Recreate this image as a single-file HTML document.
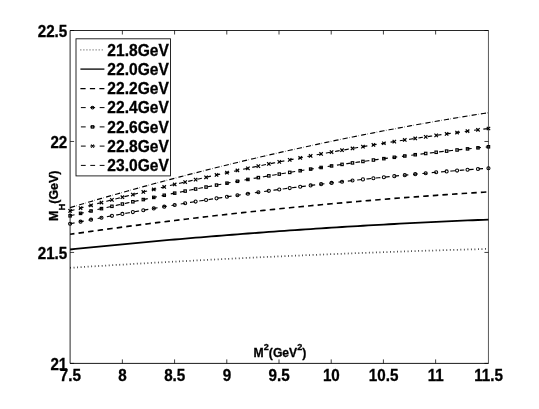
<!DOCTYPE html>
<html><head><meta charset="utf-8"><title>plot</title>
<style>html,body{margin:0;padding:0;background:#fff}svg{display:block}</style></head>
<body>
<svg width="539" height="409" viewBox="0 0 539 409">
<rect x="0" y="0" width="539" height="409" fill="#fff"/>
<g fill="none">
<path d="M70.10 267.80L75.33 267.47L80.56 267.14L85.79 266.81L91.02 266.48L96.25 266.16L101.48 265.84L106.71 265.52L111.94 265.21L117.16 264.89L122.39 264.58L127.62 264.28L132.85 263.97L138.08 263.67L143.31 263.37L148.54 263.07L153.77 262.77L159.00 262.48L164.23 262.19L169.46 261.90L174.69 261.61L179.92 261.33L185.15 261.05L190.38 260.77L195.60 260.49L200.83 260.22L206.06 259.95L211.29 259.68L216.52 259.41L221.75 259.15L226.98 258.88L232.21 258.62L237.44 258.37L242.67 258.11L247.90 257.86L253.13 257.61L258.36 257.36L263.59 257.12L268.82 256.88L274.05 256.64L279.27 256.40L284.50 256.16L289.73 255.93L294.96 255.70L300.19 255.47L305.42 255.25L310.65 255.03L315.88 254.81L321.11 254.59L326.34 254.37L331.57 254.16L336.80 253.95L342.03 253.74L347.26 253.53L352.49 253.33L357.72 253.13L362.94 252.93L368.17 252.74L373.40 252.54L378.63 252.35L383.86 252.16L389.09 251.98L394.32 251.79L399.55 251.61L404.78 251.43L410.01 251.26L415.24 251.08L420.47 250.91L425.70 250.74L430.93 250.57L436.16 250.41L441.39 250.25L446.62 250.09L451.84 249.93L457.07 249.78L462.30 249.62L467.53 249.47L472.76 249.33L477.99 249.18L483.22 249.04L488.45 248.90" stroke="#3a3a3a" stroke-width="1.75" stroke-dasharray="0.9 2.62" stroke-dashoffset="0"/>
<path d="M70.10 249.50L75.33 248.96L80.56 248.43L85.79 247.90L91.02 247.37L96.25 246.85L101.48 246.33L106.71 245.81L111.94 245.30L117.16 244.80L122.39 244.30L127.62 243.80L132.85 243.31L138.08 242.82L143.31 242.33L148.54 241.85L153.77 241.38L159.00 240.90L164.23 240.44L169.46 239.97L174.69 239.51L179.92 239.06L185.15 238.61L190.38 238.16L195.60 237.72L200.83 237.28L206.06 236.84L211.29 236.41L216.52 235.99L221.75 235.56L226.98 235.15L232.21 234.73L237.44 234.32L242.67 233.92L247.90 233.52L253.13 233.12L258.36 232.73L263.59 232.34L268.82 231.96L274.05 231.58L279.27 231.20L284.50 230.83L289.73 230.46L294.96 230.10L300.19 229.74L305.42 229.38L310.65 229.03L315.88 228.69L321.11 228.34L326.34 228.01L331.57 227.67L336.80 227.34L342.03 227.02L347.26 226.70L352.49 226.38L357.72 226.06L362.94 225.76L368.17 225.45L373.40 225.15L378.63 224.85L383.86 224.56L389.09 224.27L394.32 223.99L399.55 223.71L404.78 223.44L410.01 223.16L415.24 222.90L420.47 222.64L425.70 222.38L430.93 222.12L436.16 221.87L441.39 221.63L446.62 221.38L451.84 221.15L457.07 220.91L462.30 220.68L467.53 220.46L472.76 220.24L477.99 220.02L483.22 219.81L488.45 219.60" stroke="#000" stroke-width="1.8"/>
<path d="M70.10 234.30L75.33 233.56L80.56 232.82L85.79 232.09L91.02 231.36L96.25 230.64L101.48 229.93L106.71 229.22L111.94 228.51L117.16 227.81L122.39 227.12L127.62 226.43L132.85 225.75L138.08 225.07L143.31 224.40L148.54 223.73L153.77 223.07L159.00 222.41L164.23 221.76L169.46 221.12L174.69 220.48L179.92 219.84L185.15 219.21L190.38 218.59L195.60 217.97L200.83 217.35L206.06 216.75L211.29 216.14L216.52 215.55L221.75 214.96L226.98 214.37L232.21 213.79L237.44 213.21L242.67 212.64L247.90 212.08L253.13 211.52L258.36 210.96L263.59 210.41L268.82 209.87L274.05 209.33L279.27 208.80L284.50 208.27L289.73 207.75L294.96 207.23L300.19 206.72L305.42 206.22L310.65 205.72L315.88 205.22L321.11 204.73L326.34 204.25L331.57 203.77L336.80 203.30L342.03 202.83L347.26 202.36L352.49 201.91L357.72 201.45L362.94 201.01L368.17 200.57L373.40 200.13L378.63 199.70L383.86 199.28L389.09 198.86L394.32 198.44L399.55 198.03L404.78 197.63L410.01 197.23L415.24 196.84L420.47 196.45L425.70 196.07L430.93 195.69L436.16 195.32L441.39 194.95L446.62 194.59L451.84 194.24L457.07 193.89L462.30 193.54L467.53 193.20L472.76 192.87L477.99 192.54L483.22 192.22L488.45 191.90" stroke="#000" stroke-width="1.65" stroke-dasharray="5.5 4.13" stroke-dashoffset="1.1"/>
<path d="M70.10 223.70L75.33 222.69L80.56 221.68L85.79 220.68L91.02 219.69L96.25 218.71L101.48 217.73L106.71 216.77L111.94 215.81L117.16 214.86L122.39 213.92L127.62 212.99L132.85 212.06L138.08 211.14L143.31 210.23L148.54 209.33L153.77 208.44L159.00 207.56L164.23 206.68L169.46 205.81L174.69 204.95L179.92 204.10L185.15 203.25L190.38 202.42L195.60 201.59L200.83 200.77L206.06 199.96L211.29 199.16L216.52 198.36L221.75 197.57L226.98 196.79L232.21 196.02L237.44 195.26L242.67 194.51L247.90 193.76L253.13 193.02L258.36 192.29L263.59 191.57L268.82 190.85L274.05 190.15L279.27 189.45L284.50 188.76L289.73 188.08L294.96 187.41L300.19 186.74L305.42 186.08L310.65 185.43L315.88 184.79L321.11 184.16L326.34 183.54L331.57 182.92L336.80 182.31L342.03 181.71L347.26 181.12L352.49 180.53L357.72 179.96L362.94 179.39L368.17 178.83L373.40 178.28L378.63 177.74L383.86 177.20L389.09 176.67L394.32 176.15L399.55 175.64L404.78 175.14L410.01 174.65L415.24 174.16L420.47 173.68L425.70 173.21L430.93 172.75L436.16 172.29L441.39 171.85L446.62 171.41L451.84 170.98L457.07 170.56L462.30 170.15L467.53 169.74L472.76 169.34L477.99 168.95L483.22 168.57L488.45 168.20" stroke="#000" stroke-width="1.15" stroke-dasharray="4.6 4.77" stroke-dashoffset="0.05"/>
<circle cx="70.10" cy="223.70" r="1.55" fill="none" stroke="#000" stroke-width="1.05"/>
<circle cx="80.56" cy="221.68" r="1.55" fill="none" stroke="#000" stroke-width="1.05"/>
<circle cx="91.02" cy="219.69" r="1.55" fill="none" stroke="#000" stroke-width="1.05"/>
<circle cx="101.48" cy="217.73" r="1.55" fill="none" stroke="#000" stroke-width="1.05"/>
<circle cx="111.94" cy="215.81" r="1.55" fill="none" stroke="#000" stroke-width="1.05"/>
<circle cx="122.39" cy="213.92" r="1.55" fill="none" stroke="#000" stroke-width="1.05"/>
<circle cx="132.85" cy="212.06" r="1.55" fill="none" stroke="#000" stroke-width="1.05"/>
<circle cx="143.31" cy="210.23" r="1.55" fill="none" stroke="#000" stroke-width="1.05"/>
<circle cx="153.77" cy="208.44" r="1.55" fill="none" stroke="#000" stroke-width="1.05"/>
<circle cx="164.23" cy="206.68" r="1.55" fill="none" stroke="#000" stroke-width="1.05"/>
<circle cx="174.69" cy="204.95" r="1.55" fill="none" stroke="#000" stroke-width="1.05"/>
<circle cx="185.15" cy="203.25" r="1.55" fill="none" stroke="#000" stroke-width="1.05"/>
<circle cx="195.60" cy="201.59" r="1.55" fill="none" stroke="#000" stroke-width="1.05"/>
<circle cx="206.06" cy="199.96" r="1.55" fill="none" stroke="#000" stroke-width="1.05"/>
<circle cx="216.52" cy="198.36" r="1.55" fill="none" stroke="#000" stroke-width="1.05"/>
<circle cx="226.98" cy="196.79" r="1.55" fill="none" stroke="#000" stroke-width="1.05"/>
<circle cx="237.44" cy="195.26" r="1.55" fill="none" stroke="#000" stroke-width="1.05"/>
<circle cx="247.90" cy="193.76" r="1.55" fill="none" stroke="#000" stroke-width="1.05"/>
<circle cx="258.36" cy="192.29" r="1.55" fill="none" stroke="#000" stroke-width="1.05"/>
<circle cx="268.82" cy="190.85" r="1.55" fill="none" stroke="#000" stroke-width="1.05"/>
<circle cx="279.27" cy="189.45" r="1.55" fill="none" stroke="#000" stroke-width="1.05"/>
<circle cx="289.73" cy="188.08" r="1.55" fill="none" stroke="#000" stroke-width="1.05"/>
<circle cx="300.19" cy="186.74" r="1.55" fill="none" stroke="#000" stroke-width="1.05"/>
<circle cx="310.65" cy="185.43" r="1.55" fill="none" stroke="#000" stroke-width="1.05"/>
<circle cx="321.11" cy="184.16" r="1.55" fill="none" stroke="#000" stroke-width="1.05"/>
<circle cx="331.57" cy="182.92" r="1.55" fill="none" stroke="#000" stroke-width="1.05"/>
<circle cx="342.03" cy="181.71" r="1.55" fill="none" stroke="#000" stroke-width="1.05"/>
<circle cx="352.49" cy="180.53" r="1.55" fill="none" stroke="#000" stroke-width="1.05"/>
<circle cx="362.94" cy="179.39" r="1.55" fill="none" stroke="#000" stroke-width="1.05"/>
<circle cx="373.40" cy="178.28" r="1.55" fill="none" stroke="#000" stroke-width="1.05"/>
<circle cx="383.86" cy="177.20" r="1.55" fill="none" stroke="#000" stroke-width="1.05"/>
<circle cx="394.32" cy="176.15" r="1.55" fill="none" stroke="#000" stroke-width="1.05"/>
<circle cx="404.78" cy="175.14" r="1.55" fill="none" stroke="#000" stroke-width="1.05"/>
<circle cx="415.24" cy="174.16" r="1.55" fill="none" stroke="#000" stroke-width="1.05"/>
<circle cx="425.70" cy="173.21" r="1.55" fill="none" stroke="#000" stroke-width="1.05"/>
<circle cx="436.16" cy="172.29" r="1.55" fill="none" stroke="#000" stroke-width="1.05"/>
<circle cx="446.62" cy="171.41" r="1.55" fill="none" stroke="#000" stroke-width="1.05"/>
<circle cx="457.07" cy="170.56" r="1.55" fill="none" stroke="#000" stroke-width="1.05"/>
<circle cx="467.53" cy="169.74" r="1.55" fill="none" stroke="#000" stroke-width="1.05"/>
<circle cx="477.99" cy="168.95" r="1.55" fill="none" stroke="#000" stroke-width="1.05"/>
<circle cx="488.45" cy="168.20" r="1.55" fill="none" stroke="#000" stroke-width="1.05"/>
<path d="M70.10 215.80L75.33 214.58L80.56 213.37L85.79 212.17L91.02 210.98L96.25 209.80L101.48 208.63L106.71 207.46L111.94 206.31L117.16 205.16L122.39 204.03L127.62 202.90L132.85 201.78L138.08 200.67L143.31 199.57L148.54 198.48L153.77 197.39L159.00 196.32L164.23 195.25L169.46 194.20L174.69 193.15L179.92 192.11L185.15 191.08L190.38 190.06L195.60 189.05L200.83 188.05L206.06 187.06L211.29 186.07L216.52 185.10L221.75 184.13L226.98 183.18L232.21 182.23L237.44 181.29L242.67 180.36L247.90 179.44L253.13 178.53L258.36 177.62L263.59 176.73L268.82 175.84L274.05 174.97L279.27 174.10L284.50 173.24L289.73 172.39L294.96 171.55L300.19 170.72L305.42 169.90L310.65 169.09L315.88 168.28L321.11 167.49L326.34 166.70L331.57 165.93L336.80 165.16L342.03 164.40L347.26 163.65L352.49 162.91L357.72 162.18L362.94 161.45L368.17 160.74L373.40 160.03L378.63 159.34L383.86 158.65L389.09 157.97L394.32 157.30L399.55 156.64L404.78 155.99L410.01 155.35L415.24 154.72L420.47 154.09L425.70 153.48L430.93 152.87L436.16 152.28L441.39 151.69L446.62 151.11L451.84 150.54L457.07 149.98L462.30 149.43L467.53 148.88L472.76 148.35L477.99 147.82L483.22 147.31L488.45 146.80" stroke="#000" stroke-width="1.15" stroke-dasharray="4.6 4.77" stroke-dashoffset="0.05"/>
<rect x="68.90" y="214.60" width="2.4" height="2.4" fill="none" stroke="#000" stroke-width="1.15"/>
<rect x="79.36" y="212.17" width="2.4" height="2.4" fill="none" stroke="#000" stroke-width="1.15"/>
<rect x="89.82" y="209.78" width="2.4" height="2.4" fill="none" stroke="#000" stroke-width="1.15"/>
<rect x="100.28" y="207.43" width="2.4" height="2.4" fill="none" stroke="#000" stroke-width="1.15"/>
<rect x="110.73" y="205.11" width="2.4" height="2.4" fill="none" stroke="#000" stroke-width="1.15"/>
<rect x="121.19" y="202.83" width="2.4" height="2.4" fill="none" stroke="#000" stroke-width="1.15"/>
<rect x="131.65" y="200.58" width="2.4" height="2.4" fill="none" stroke="#000" stroke-width="1.15"/>
<rect x="142.11" y="198.37" width="2.4" height="2.4" fill="none" stroke="#000" stroke-width="1.15"/>
<rect x="152.57" y="196.19" width="2.4" height="2.4" fill="none" stroke="#000" stroke-width="1.15"/>
<rect x="163.03" y="194.05" width="2.4" height="2.4" fill="none" stroke="#000" stroke-width="1.15"/>
<rect x="173.49" y="191.95" width="2.4" height="2.4" fill="none" stroke="#000" stroke-width="1.15"/>
<rect x="183.95" y="189.88" width="2.4" height="2.4" fill="none" stroke="#000" stroke-width="1.15"/>
<rect x="194.41" y="187.85" width="2.4" height="2.4" fill="none" stroke="#000" stroke-width="1.15"/>
<rect x="204.86" y="185.86" width="2.4" height="2.4" fill="none" stroke="#000" stroke-width="1.15"/>
<rect x="215.32" y="183.90" width="2.4" height="2.4" fill="none" stroke="#000" stroke-width="1.15"/>
<rect x="225.78" y="181.98" width="2.4" height="2.4" fill="none" stroke="#000" stroke-width="1.15"/>
<rect x="236.24" y="180.09" width="2.4" height="2.4" fill="none" stroke="#000" stroke-width="1.15"/>
<rect x="246.70" y="178.24" width="2.4" height="2.4" fill="none" stroke="#000" stroke-width="1.15"/>
<rect x="257.16" y="176.42" width="2.4" height="2.4" fill="none" stroke="#000" stroke-width="1.15"/>
<rect x="267.62" y="174.64" width="2.4" height="2.4" fill="none" stroke="#000" stroke-width="1.15"/>
<rect x="278.07" y="172.90" width="2.4" height="2.4" fill="none" stroke="#000" stroke-width="1.15"/>
<rect x="288.53" y="171.19" width="2.4" height="2.4" fill="none" stroke="#000" stroke-width="1.15"/>
<rect x="298.99" y="169.52" width="2.4" height="2.4" fill="none" stroke="#000" stroke-width="1.15"/>
<rect x="309.45" y="167.89" width="2.4" height="2.4" fill="none" stroke="#000" stroke-width="1.15"/>
<rect x="319.91" y="166.29" width="2.4" height="2.4" fill="none" stroke="#000" stroke-width="1.15"/>
<rect x="330.37" y="164.73" width="2.4" height="2.4" fill="none" stroke="#000" stroke-width="1.15"/>
<rect x="340.83" y="163.20" width="2.4" height="2.4" fill="none" stroke="#000" stroke-width="1.15"/>
<rect x="351.29" y="161.71" width="2.4" height="2.4" fill="none" stroke="#000" stroke-width="1.15"/>
<rect x="361.74" y="160.25" width="2.4" height="2.4" fill="none" stroke="#000" stroke-width="1.15"/>
<rect x="372.20" y="158.83" width="2.4" height="2.4" fill="none" stroke="#000" stroke-width="1.15"/>
<rect x="382.66" y="157.45" width="2.4" height="2.4" fill="none" stroke="#000" stroke-width="1.15"/>
<rect x="393.12" y="156.10" width="2.4" height="2.4" fill="none" stroke="#000" stroke-width="1.15"/>
<rect x="403.58" y="154.79" width="2.4" height="2.4" fill="none" stroke="#000" stroke-width="1.15"/>
<rect x="414.04" y="153.52" width="2.4" height="2.4" fill="none" stroke="#000" stroke-width="1.15"/>
<rect x="424.50" y="152.28" width="2.4" height="2.4" fill="none" stroke="#000" stroke-width="1.15"/>
<rect x="434.96" y="151.08" width="2.4" height="2.4" fill="none" stroke="#000" stroke-width="1.15"/>
<rect x="445.42" y="149.91" width="2.4" height="2.4" fill="none" stroke="#000" stroke-width="1.15"/>
<rect x="455.87" y="148.78" width="2.4" height="2.4" fill="none" stroke="#000" stroke-width="1.15"/>
<rect x="466.33" y="147.68" width="2.4" height="2.4" fill="none" stroke="#000" stroke-width="1.15"/>
<rect x="476.79" y="146.62" width="2.4" height="2.4" fill="none" stroke="#000" stroke-width="1.15"/>
<rect x="487.25" y="145.60" width="2.4" height="2.4" fill="none" stroke="#000" stroke-width="1.15"/>
<path d="M70.10 210.90L75.33 209.48L80.56 208.08L85.79 206.68L91.02 205.30L96.25 203.92L101.48 202.56L106.71 201.20L111.94 199.85L117.16 198.51L122.39 197.19L127.62 195.87L132.85 194.56L138.08 193.26L143.31 191.98L148.54 190.70L153.77 189.43L159.00 188.17L164.23 186.92L169.46 185.68L174.69 184.45L179.92 183.23L185.15 182.02L190.38 180.82L195.60 179.63L200.83 178.45L206.06 177.28L211.29 176.11L216.52 174.96L221.75 173.82L226.98 172.69L232.21 171.56L237.44 170.45L242.67 169.35L247.90 168.26L253.13 167.17L258.36 166.10L263.59 165.03L268.82 163.98L274.05 162.93L279.27 161.90L284.50 160.87L289.73 159.86L294.96 158.85L300.19 157.86L305.42 156.87L310.65 155.90L315.88 154.93L321.11 153.97L326.34 153.02L331.57 152.09L336.80 151.16L342.03 150.24L347.26 149.33L352.49 148.44L357.72 147.55L362.94 146.67L368.17 145.80L373.40 144.94L378.63 144.09L383.86 143.25L389.09 142.42L394.32 141.60L399.55 140.79L404.78 139.99L410.01 139.20L415.24 138.42L420.47 137.64L425.70 136.88L430.93 136.13L436.16 135.39L441.39 134.65L446.62 133.93L451.84 133.22L457.07 132.52L462.30 131.82L467.53 131.14L472.76 130.46L477.99 129.80L483.22 129.14L488.45 128.50" stroke="#000" stroke-width="1.15" stroke-dasharray="4.6 4.77" stroke-dashoffset="0.05"/>
<path d="M68.40 209.20L71.80 212.60M68.40 212.60L71.80 209.20" stroke="#000" stroke-width="1.2" fill="none"/>
<path d="M78.86 206.38L82.26 209.78M78.86 209.78L82.26 206.38" stroke="#000" stroke-width="1.2" fill="none"/>
<path d="M89.32 203.60L92.72 207.00M89.32 207.00L92.72 203.60" stroke="#000" stroke-width="1.2" fill="none"/>
<path d="M99.78 200.86L103.18 204.26M99.78 204.26L103.18 200.86" stroke="#000" stroke-width="1.2" fill="none"/>
<path d="M110.23 198.15L113.64 201.55M110.23 201.55L113.64 198.15" stroke="#000" stroke-width="1.2" fill="none"/>
<path d="M120.69 195.49L124.09 198.89M120.69 198.89L124.09 195.49" stroke="#000" stroke-width="1.2" fill="none"/>
<path d="M131.15 192.86L134.55 196.26M131.15 196.26L134.55 192.86" stroke="#000" stroke-width="1.2" fill="none"/>
<path d="M141.61 190.28L145.01 193.68M141.61 193.68L145.01 190.28" stroke="#000" stroke-width="1.2" fill="none"/>
<path d="M152.07 187.73L155.47 191.13M152.07 191.13L155.47 187.73" stroke="#000" stroke-width="1.2" fill="none"/>
<path d="M162.53 185.22L165.93 188.62M162.53 188.62L165.93 185.22" stroke="#000" stroke-width="1.2" fill="none"/>
<path d="M172.99 182.75L176.39 186.15M172.99 186.15L176.39 182.75" stroke="#000" stroke-width="1.2" fill="none"/>
<path d="M183.45 180.32L186.85 183.72M183.45 183.72L186.85 180.32" stroke="#000" stroke-width="1.2" fill="none"/>
<path d="M193.91 177.93L197.30 181.33M193.91 181.33L197.30 177.93" stroke="#000" stroke-width="1.2" fill="none"/>
<path d="M204.36 175.58L207.76 178.98M204.36 178.98L207.76 175.58" stroke="#000" stroke-width="1.2" fill="none"/>
<path d="M214.82 173.26L218.22 176.66M214.82 176.66L218.22 173.26" stroke="#000" stroke-width="1.2" fill="none"/>
<path d="M225.28 170.99L228.68 174.39M225.28 174.39L228.68 170.99" stroke="#000" stroke-width="1.2" fill="none"/>
<path d="M235.74 168.75L239.14 172.15M235.74 172.15L239.14 168.75" stroke="#000" stroke-width="1.2" fill="none"/>
<path d="M246.20 166.56L249.60 169.96M246.20 169.96L249.60 166.56" stroke="#000" stroke-width="1.2" fill="none"/>
<path d="M256.66 164.40L260.06 167.80M256.66 167.80L260.06 164.40" stroke="#000" stroke-width="1.2" fill="none"/>
<path d="M267.12 162.28L270.52 165.68M267.12 165.68L270.52 162.28" stroke="#000" stroke-width="1.2" fill="none"/>
<path d="M277.57 160.20L280.97 163.60M277.57 163.60L280.97 160.20" stroke="#000" stroke-width="1.2" fill="none"/>
<path d="M288.03 158.16L291.43 161.56M288.03 161.56L291.43 158.16" stroke="#000" stroke-width="1.2" fill="none"/>
<path d="M298.49 156.16L301.89 159.56M298.49 159.56L301.89 156.16" stroke="#000" stroke-width="1.2" fill="none"/>
<path d="M308.95 154.20L312.35 157.60M308.95 157.60L312.35 154.20" stroke="#000" stroke-width="1.2" fill="none"/>
<path d="M319.41 152.27L322.81 155.67M319.41 155.67L322.81 152.27" stroke="#000" stroke-width="1.2" fill="none"/>
<path d="M329.87 150.39L333.27 153.79M329.87 153.79L333.27 150.39" stroke="#000" stroke-width="1.2" fill="none"/>
<path d="M340.33 148.54L343.73 151.94M340.33 151.94L343.73 148.54" stroke="#000" stroke-width="1.2" fill="none"/>
<path d="M350.79 146.74L354.19 150.14M350.79 150.14L354.19 146.74" stroke="#000" stroke-width="1.2" fill="none"/>
<path d="M361.24 144.97L364.64 148.37M361.24 148.37L364.64 144.97" stroke="#000" stroke-width="1.2" fill="none"/>
<path d="M371.70 143.24L375.10 146.64M371.70 146.64L375.10 143.24" stroke="#000" stroke-width="1.2" fill="none"/>
<path d="M382.16 141.55L385.56 144.95M382.16 144.95L385.56 141.55" stroke="#000" stroke-width="1.2" fill="none"/>
<path d="M392.62 139.90L396.02 143.30M392.62 143.30L396.02 139.90" stroke="#000" stroke-width="1.2" fill="none"/>
<path d="M403.08 138.29L406.48 141.69M403.08 141.69L406.48 138.29" stroke="#000" stroke-width="1.2" fill="none"/>
<path d="M413.54 136.72L416.94 140.12M413.54 140.12L416.94 136.72" stroke="#000" stroke-width="1.2" fill="none"/>
<path d="M424.00 135.18L427.40 138.58M424.00 138.58L427.40 135.18" stroke="#000" stroke-width="1.2" fill="none"/>
<path d="M434.46 133.69L437.86 137.09M434.46 137.09L437.86 133.69" stroke="#000" stroke-width="1.2" fill="none"/>
<path d="M444.92 132.23L448.31 135.63M444.92 135.63L448.31 132.23" stroke="#000" stroke-width="1.2" fill="none"/>
<path d="M455.37 130.82L458.77 134.22M455.37 134.22L458.77 130.82" stroke="#000" stroke-width="1.2" fill="none"/>
<path d="M465.83 129.44L469.23 132.84M465.83 132.84L469.23 129.44" stroke="#000" stroke-width="1.2" fill="none"/>
<path d="M476.29 128.10L479.69 131.50M476.29 131.50L479.69 128.10" stroke="#000" stroke-width="1.2" fill="none"/>
<path d="M486.75 126.80L490.15 130.20M486.75 130.20L490.15 126.80" stroke="#000" stroke-width="1.2" fill="none"/>
<path d="M70.10 207.60L75.33 206.04L80.56 204.50L85.79 202.96L91.02 201.43L96.25 199.91L101.48 198.40L106.71 196.90L111.94 195.41L117.16 193.93L122.39 192.46L127.62 190.99L132.85 189.54L138.08 188.10L143.31 186.66L148.54 185.24L153.77 183.82L159.00 182.41L164.23 181.02L169.46 179.63L174.69 178.25L179.92 176.88L185.15 175.52L190.38 174.17L195.60 172.83L200.83 171.50L206.06 170.18L211.29 168.86L216.52 167.56L221.75 166.27L226.98 164.98L232.21 163.71L237.44 162.44L242.67 161.18L247.90 159.94L253.13 158.70L258.36 157.47L263.59 156.25L268.82 155.04L274.05 153.84L279.27 152.65L284.50 151.47L289.73 150.30L294.96 149.13L300.19 147.98L305.42 146.84L310.65 145.70L315.88 144.58L321.11 143.46L326.34 142.35L331.57 141.26L336.80 140.17L342.03 139.09L347.26 138.02L352.49 136.96L357.72 135.91L362.94 134.87L368.17 133.84L373.40 132.82L378.63 131.80L383.86 130.80L389.09 129.81L394.32 128.82L399.55 127.85L404.78 126.88L410.01 125.92L415.24 124.98L420.47 124.04L425.70 123.11L430.93 122.19L436.16 121.28L441.39 120.38L446.62 119.49L451.84 118.61L457.07 117.74L462.30 116.87L467.53 116.02L472.76 115.18L477.99 114.34L483.22 113.52L488.45 112.70" stroke="#000" stroke-width="1.15" stroke-dasharray="5.2 1.5 0.4 2.27" stroke-dashoffset="0"/>
</g>
<g stroke="#000" fill="none"><path d="M70.1 30.5H488.45" stroke-width="0.85"/><path d="M70.1 363.4H488.45" stroke-width="0.9"/><path d="M70.1 30.5V363.4" stroke-width="0.85"/><path d="M488.45 30.5V363.4" stroke-width="0.65"/></g>
<path d="M122.37 363.4V359.4M122.37 30.5V34.5M174.58 363.4V359.4M174.58 30.5V34.5M226.79 363.4V359.4M226.79 30.5V34.5M279.00 363.4V359.4M279.00 30.5V34.5M331.21 363.4V359.4M331.21 30.5V34.5M383.42 363.4V359.4M383.42 30.5V34.5M435.63 363.4V359.4M435.63 30.5V34.5M70.1 363.40H74.1M488.45 363.40H484.45M70.1 252.43H74.1M488.45 252.43H484.45M70.1 141.47H74.1M488.45 141.47H484.45M70.1 30.50H74.1M488.45 30.50H484.45" stroke="#000" stroke-width="0.75" fill="none"/>
<g font-family="Liberation Sans, Arial, Helvetica, sans-serif" font-weight="bold" fill="#000" stroke="#000" stroke-width="0.3">
<text transform="translate(70.31 380.50) scale(0.96 1)" font-size="15.85" text-anchor="middle">7.5</text>
<text transform="translate(122.52 380.50) scale(0.96 1)" font-size="15.85" text-anchor="middle">8</text>
<text transform="translate(174.73 380.50) scale(0.96 1)" font-size="15.85" text-anchor="middle">8.5</text>
<text transform="translate(226.94 380.50) scale(0.96 1)" font-size="15.85" text-anchor="middle">9</text>
<text transform="translate(279.15 380.50) scale(0.96 1)" font-size="15.85" text-anchor="middle">9.5</text>
<text transform="translate(331.36 380.50) scale(0.96 1)" font-size="15.85" text-anchor="middle">10</text>
<text transform="translate(383.57 380.50) scale(0.96 1)" font-size="15.85" text-anchor="middle">10.5</text>
<text transform="translate(435.78 380.50) scale(0.96 1)" font-size="15.85" text-anchor="middle">11</text>
<text transform="translate(488.54 380.50) scale(0.96 1)" font-size="15.85" text-anchor="middle">11.5</text>
<text transform="translate(67.30 369.50) scale(0.96 1)" font-size="15.85" text-anchor="end">21</text>
<text transform="translate(67.30 258.53) scale(0.96 1)" font-size="15.85" text-anchor="end">21.5</text>
<text transform="translate(67.30 147.57) scale(0.96 1)" font-size="15.85" text-anchor="end">22</text>
<text transform="translate(67.30 36.60) scale(0.96 1)" font-size="15.85" text-anchor="end">22.5</text>
<text transform="translate(253.60 357.10) scale(0.966 1)" font-size="12.6" text-anchor="start">M<tspan font-size="9.5" dy="-7">2</tspan><tspan dy="7">(GeV</tspan><tspan font-size="9.5" dy="-7">2</tspan><tspan dy="7">)</tspan></text>
<text transform="translate(58.20 220.90) rotate(-90) scale(0.988 1)" font-size="12.6" text-anchor="start">M<tspan font-size="9.5" dy="6.6">H</tspan><tspan dy="-6.6">(GeV)</tspan></text>
</g>
<rect x="76" y="38.8" width="94.5" height="137.1" fill="#fff" stroke="#111" stroke-width="0.9"/>
<g font-family="Liberation Sans, Arial, Helvetica, sans-serif" font-weight="bold" fill="#000" stroke="#000" stroke-width="0.3">
<text transform="translate(107.30 55.50) scale(0.966 1)" font-size="16.15" text-anchor="start">21.8GeV</text>
<text transform="translate(107.30 74.70) scale(0.966 1)" font-size="16.15" text-anchor="start">22.0GeV</text>
<text transform="translate(107.30 94.30) scale(0.966 1)" font-size="16.15" text-anchor="start">22.2GeV</text>
<text transform="translate(107.30 113.20) scale(0.966 1)" font-size="16.15" text-anchor="start">22.4GeV</text>
<text transform="translate(107.30 132.50) scale(0.966 1)" font-size="16.15" text-anchor="start">22.6GeV</text>
<text transform="translate(107.30 151.70) scale(0.966 1)" font-size="16.15" text-anchor="start">22.8GeV</text>
<text transform="translate(107.30 171.00) scale(0.966 1)" font-size="16.15" text-anchor="start">23.0GeV</text>
</g>
<path d="M80.4 49.9H104.4" stroke="#555" stroke-width="1.1" fill="none" stroke-dasharray="0.9 2.15"/>
<path d="M80.4 69.1H104.4" stroke="#000" stroke-width="1.3" fill="none"/>
<path d="M80.4 88.7H104.4" stroke="#000" stroke-width="1.3" fill="none" stroke-dasharray="5.2 4.3"/>
<path d="M80.9 107.6H104.5" stroke="#000" stroke-width="1" fill="none" stroke-dasharray="4.8 4.6"/>
<circle cx="92.50" cy="107.60" r="1.4" fill="none" stroke="#000" stroke-width="1.05"/>
<path d="M80.9 126.9H104.5" stroke="#000" stroke-width="1" fill="none" stroke-dasharray="4.8 4.6"/>
<rect x="91.30" y="125.70" width="2.4" height="2.4" fill="none" stroke="#000" stroke-width="1.1"/>
<path d="M80.9 146.1H104.5" stroke="#000" stroke-width="1" fill="none" stroke-dasharray="4.8 4.6"/>
<path d="M91.00 144.60L94.00 147.60M91.00 147.60L94.00 144.60" stroke="#000" stroke-width="1.1" fill="none"/>
<path d="M80.9 165.4H104.5" stroke="#000" stroke-width="1" fill="none" stroke-dasharray="4.8 4.6"/>
</svg>
</body></html>
